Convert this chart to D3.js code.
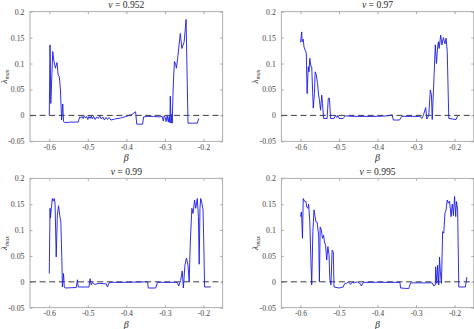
<!DOCTYPE html>
<html>
<head>
<meta charset="utf-8">
<script src="https://cdn.jsdelivr.net/npm/d3@7"></script>
<style>
  html, body { margin: 0; padding: 0; background: #fff; }
  svg { display: block; }
  .tick text { font-family: "Liberation Serif", "DejaVu Serif", serif; font-size: 7.8px; fill: #444; }
  .tick line { stroke: #8a8a8a; stroke-width: 0.7; }
  .lbl { font-family: "Liberation Serif", "DejaVu Serif", serif; fill: #2a2a2a; }
</style>
</head>
<body>
<svg id="chart" width="474" height="329"></svg>
<script>
// Tick values and labels shared by all four panels
const xTicks = [-0.6, -0.5, -0.4, -0.3, -0.2];
const xTickLabels = ["-0.6", "-0.5", "-0.4", "-0.3", "-0.2"];
const yTicks = [-0.05, 0, 0.05, 0.1, 0.15, 0.2];
const yTickLabels = ["-0.05", "0", "0.05", "0.1", "0.15", "0.2"];

// Panel titles (value of v)
const vValues = ["0.952", "0.97", "0.99", "0.995"];

// Largest Lyapunov exponent against beta, one curve per v  [beta, lambda_max]
const curve952 = [
  [-0.600, 0.000], [-0.598, 0.136], [-0.596, 0.023], [-0.591, 0.123], [-0.588, 0.105],
  [-0.584, 0.091], [-0.580, 0.102], [-0.577, 0.078], [-0.574, 0.075], [-0.571, 0.049],
  [-0.568, -0.009], [-0.565, 0.022], [-0.563, -0.012], [-0.559, -0.014], [-0.545, -0.013],
  [-0.525, -0.013], [-0.521, -0.003], [-0.518, -0.005], [-0.515, -0.002], [-0.512, -0.006],
  [-0.509, -0.001], [-0.506, -0.005], [-0.503, -0.002], [-0.500, -0.008], [-0.497, -0.002],
  [-0.494, -0.006], [-0.491, -0.001], [-0.488, -0.007], [-0.485, -0.002], [-0.481, -0.008],
  [-0.477, -0.003], [-0.473, -0.006], [-0.469, -0.001], [-0.465, -0.007], [-0.461, -0.003],
  [-0.457, -0.009], [-0.453, -0.004], [-0.449, -0.008], [-0.445, -0.004], [-0.440, -0.009],
  [-0.430, -0.007], [-0.415, -0.005], [-0.400, -0.002], [-0.385, 0.002], [-0.376, 0.007],
  [-0.373, -0.017], [-0.358, -0.017], [-0.355, -0.003], [-0.345, -0.002], [-0.330, -0.002],
  [-0.315, -0.003], [-0.307, -0.002], [-0.304, -0.011], [-0.302, -0.001], [-0.299, -0.004],
  [-0.297, -0.012], [-0.294, -0.001], [-0.291, -0.013], [-0.289, -0.002], [-0.287, -0.014],
  [-0.286, 0.037], [-0.284, -0.015], [-0.282, 0.002], [-0.281, -0.015], [-0.279, 0.040],
  [-0.277, 0.080], [-0.275, 0.104], [-0.272, 0.098], [-0.270, 0.091], [-0.266, 0.116],
  [-0.260, 0.158], [-0.256, 0.129], [-0.250, 0.142], [-0.245, 0.185], [-0.240, -0.015],
  [-0.228, -0.015], [-0.216, -0.015], [-0.212, -0.006]
];

const curve97 = [
  [-0.600, 0.141], [-0.597, 0.161], [-0.596, 0.142], [-0.593, 0.147], [-0.591, 0.132],
  [-0.588, 0.126], [-0.585, 0.120], [-0.583, 0.042], [-0.580, 0.094], [-0.578, 0.084],
  [-0.576, 0.110], [-0.573, 0.094], [-0.571, 0.094], [-0.567, 0.014], [-0.564, 0.042],
  [-0.562, 0.084], [-0.559, 0.078], [-0.556, 0.062], [-0.553, 0.039], [-0.551, 0.030],
  [-0.548, 0.010], [-0.545, 0.039], [-0.543, 0.023], [-0.540, -0.006], [-0.531, -0.006],
  [-0.528, 0.033], [-0.525, 0.033], [-0.522, -0.006], [-0.513, -0.006], [-0.509, 0.000],
  [-0.506, -0.004], [-0.503, 0.000], [-0.500, -0.006], [-0.490, -0.006], [-0.484, -0.001],
  [-0.460, -0.002], [-0.430, -0.002], [-0.400, -0.002], [-0.375, -0.001], [-0.362, 0.001],
  [-0.359, -0.009], [-0.343, -0.009], [-0.337, -0.002], [-0.310, -0.002], [-0.289, -0.002],
  [-0.285, -0.006], [-0.281, 0.000], [-0.275, 0.015], [-0.272, -0.007], [-0.267, 0.000],
  [-0.263, 0.049], [-0.260, 0.040], [-0.258, -0.008], [-0.254, 0.062], [-0.250, 0.136],
  [-0.247, 0.100], [-0.244, 0.132], [-0.242, 0.142], [-0.240, 0.129], [-0.236, 0.155],
  [-0.233, 0.136], [-0.229, 0.150], [-0.225, 0.138], [-0.222, 0.149], [-0.219, 0.123],
  [-0.215, -0.006], [-0.196, -0.008], [-0.192, -0.001]
];

const curve99 = [
  [-0.600, 0.016], [-0.598, 0.142], [-0.597, 0.123], [-0.595, 0.139], [-0.592, 0.161],
  [-0.590, 0.156], [-0.587, 0.161], [-0.585, 0.152], [-0.582, 0.048], [-0.579, 0.129],
  [-0.576, 0.147], [-0.573, 0.129], [-0.570, 0.116], [-0.567, 0.032], [-0.566, -0.010],
  [-0.563, 0.016], [-0.561, -0.010], [-0.559, -0.012], [-0.530, -0.011], [-0.527, 0.004],
  [-0.525, -0.010], [-0.497, -0.010], [-0.494, 0.006], [-0.491, -0.006], [-0.488, -0.001],
  [-0.482, -0.005], [-0.470, -0.003], [-0.452, -0.004], [-0.449, -0.010], [-0.444, -0.001],
  [-0.400, -0.001], [-0.345, 0.000], [-0.343, -0.012], [-0.324, -0.012], [-0.319, -0.001],
  [-0.290, -0.001], [-0.268, -0.001], [-0.264, -0.008], [-0.259, 0.003], [-0.255, 0.021],
  [-0.252, -0.012], [-0.248, 0.032], [-0.244, 0.046], [-0.240, 0.032], [-0.237, 0.000],
  [-0.234, 0.077], [-0.230, 0.142], [-0.227, 0.132], [-0.223, 0.158], [-0.220, 0.142],
  [-0.216, 0.161], [-0.213, 0.126], [-0.211, 0.034], [-0.209, 0.142], [-0.207, 0.161],
  [-0.204, 0.152], [-0.201, 0.139], [-0.199, 0.071], [-0.197, -0.010], [-0.181, -0.010]
];

const curve995 = [
  [-0.600, 0.126], [-0.598, 0.135], [-0.597, 0.123], [-0.595, 0.084], [-0.593, 0.161],
  [-0.590, 0.156], [-0.586, 0.155], [-0.584, 0.145], [-0.581, 0.142], [-0.579, 0.150],
  [-0.576, 0.116], [-0.573, 0.039], [-0.571, -0.006], [-0.568, 0.097], [-0.565, 0.139],
  [-0.563, 0.129], [-0.560, 0.116], [-0.557, 0.115], [-0.553, 0.090], [-0.551, 0.000],
  [-0.549, 0.106], [-0.546, 0.100], [-0.543, 0.084], [-0.540, 0.090], [-0.538, 0.077],
  [-0.535, 0.071], [-0.532, 0.042], [-0.529, 0.068], [-0.526, 0.052], [-0.524, 0.006],
  [-0.521, -0.006], [-0.518, 0.061], [-0.515, 0.058], [-0.513, -0.010], [-0.500, -0.012],
  [-0.489, -0.010], [-0.486, -0.004], [-0.481, -0.003], [-0.475, 0.000], [-0.470, -0.005],
  [-0.466, -0.001], [-0.460, -0.002], [-0.453, 0.000], [-0.444, -0.004], [-0.442, -0.008],
  [-0.437, -0.001], [-0.400, -0.001], [-0.342, -0.001], [-0.340, -0.012], [-0.319, -0.013],
  [-0.314, -0.002], [-0.258, -0.002], [-0.254, -0.008], [-0.250, -0.006], [-0.249, 0.029],
  [-0.246, -0.003], [-0.244, 0.032], [-0.241, -0.006], [-0.239, 0.048], [-0.237, 0.019],
  [-0.234, -0.003], [-0.231, 0.097], [-0.228, 0.094], [-0.225, 0.132], [-0.222, 0.139],
  [-0.219, 0.158], [-0.216, 0.152], [-0.213, 0.156], [-0.209, 0.126], [-0.206, 0.150],
  [-0.203, 0.128], [-0.200, 0.165], [-0.197, 0.126], [-0.195, 0.155], [-0.192, 0.140],
  [-0.189, -0.010], [-0.172, -0.010], [-0.168, 0.009]
];

const curves = [curve952, curve97, curve99, curve995];

// Plot frames (left, top, width, height) of the 2x2 grid
const frames = [
  { left: 30,    top: 11.7,  width: 192.7, height: 129.6 },
  { left: 281.3, top: 11.7,  width: 192.5, height: 129.6 },
  { left: 30,    top: 178.3, width: 192.7, height: 129.4 },
  { left: 281.3, top: 178.3, width: 192.5, height: 129.4 }
];

const xDomain = [-0.65, -0.15];
const yDomain = [-0.05, 0.2];
const tickLen = 2.5;

const svg = d3.select("#chart");

frames.forEach((f, i) => {
  const x = d3.scaleLinear().domain(xDomain).range([f.left, f.left + f.width]);
  const y = d3.scaleLinear().domain(yDomain).range([f.top + f.height, f.top]);
  const g = svg.append("g");

  // bottom axis with labels
  g.append("g")
    .attr("transform", `translate(0,${f.top + f.height})`)
    .call(d3.axisBottom(x).tickValues(xTicks)
      .tickFormat((d, k) => xTickLabels[k])
      .tickSizeInner(-tickLen).tickSizeOuter(0).tickPadding(3.2))
    .call(a => a.select(".domain").remove());

  // top axis, ticks only
  g.append("g")
    .attr("transform", `translate(0,${f.top})`)
    .call(d3.axisTop(x).tickValues(xTicks).tickFormat("")
      .tickSizeInner(-tickLen).tickSizeOuter(0))
    .call(a => a.select(".domain").remove());

  // left axis with labels
  g.append("g")
    .attr("transform", `translate(${f.left},0)`)
    .call(d3.axisLeft(y).tickValues(yTicks)
      .tickFormat((d, k) => yTickLabels[k])
      .tickSizeInner(-tickLen).tickSizeOuter(0).tickPadding(5.5))
    .call(a => a.select(".domain").remove());

  // right axis, ticks only
  g.append("g")
    .attr("transform", `translate(${f.left + f.width},0)`)
    .call(d3.axisRight(y).tickValues(yTicks).tickFormat("")
      .tickSizeInner(-tickLen).tickSizeOuter(0))
    .call(a => a.select(".domain").remove());

  // frame
  g.append("rect")
    .attr("x", f.left).attr("y", f.top)
    .attr("width", f.width).attr("height", f.height)
    .attr("fill", "none").attr("stroke", "#9a9a9a").attr("stroke-width", 0.8);

  // zero reference
  g.append("line")
    .attr("x1", x(xDomain[0])).attr("x2", x(xDomain[1]))
    .attr("y1", y(0)).attr("y2", y(0))
    .attr("stroke", "#3c3c3c").attr("stroke-width", 1)
    .attr("stroke-dasharray", "6,3.6");

  // lambda_max curve
  const line = d3.line().x(d => x(d[0])).y(d => y(d[1]));
  g.append("path")
    .datum(curves[i])
    .attr("d", line)
    .attr("fill", "none")
    .attr("stroke", "#1818e8")
    .attr("stroke-width", 0.9)
    .attr("stroke-linejoin", "round");

  // title
  const cx = f.left + f.width / 2;
  const title = g.append("text").attr("class", "lbl")
    .attr("x", cx).attr("y", f.top - 3.6)
    .attr("text-anchor", "middle").attr("font-size", 9.6);
  title.append("tspan").attr("font-style", "italic").text("v");
  title.append("tspan").text(" = " + vValues[i]);

  // x label
  g.append("text").attr("class", "lbl")
    .attr("x", cx).attr("y", f.top + f.height + 20)
    .attr("text-anchor", "middle").attr("font-size", 10)
    .attr("font-style", "italic").text("β");

  // y label
  const ly = f.top + f.height / 2;
  const lx = f.left - 23.5;
  const yl = g.append("text").attr("class", "lbl")
    .attr("transform", `translate(${lx},${ly}) rotate(-90)`)
    .attr("text-anchor", "middle").attr("font-size", 9);
  yl.append("tspan").attr("font-style", "italic").text("λ");
  yl.append("tspan").attr("font-style", "italic").attr("font-size", 6)
    .attr("dy", 2).text("max");
});
</script>
</body>
</html>
